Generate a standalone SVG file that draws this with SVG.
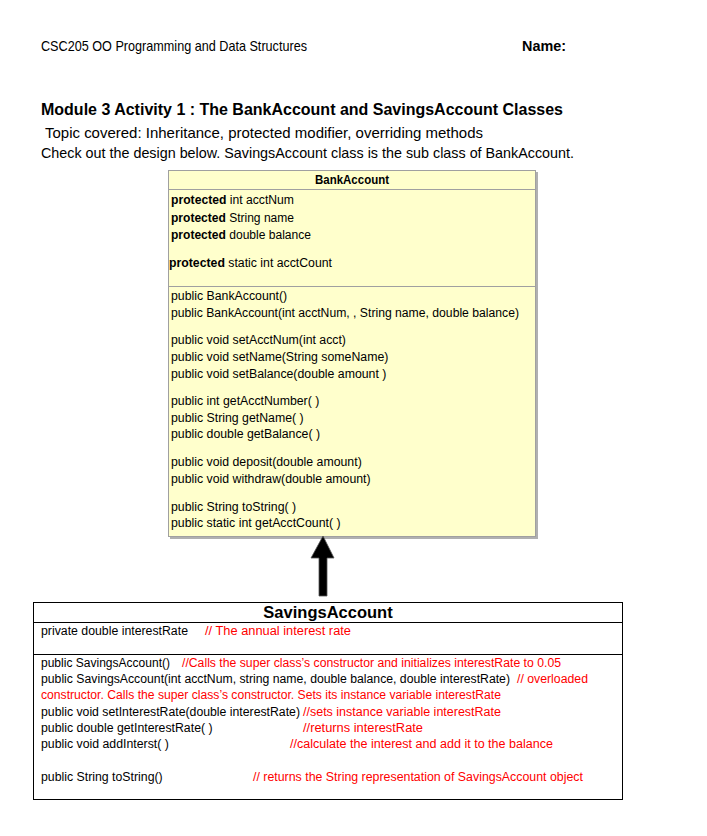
<svg xmlns="http://www.w3.org/2000/svg" width="707" height="836" viewBox="0 0 707 836">
<style>
text{font-family:"Liberation Sans",Arial,sans-serif;fill:#000}
.hd{font-size:14.5px}
.ttl{font-size:16.5px;font-weight:bold}
.t{font-size:12.3px}
.b{font-weight:bold}
.r{fill:#ff0000}
.box{fill:#ffffcc;stroke:#a0a0a0;stroke-width:1}
.ln{stroke:#a0a0a0;stroke-width:1}
.sbox{fill:#fff;stroke:#000;stroke-width:1}
.sln{stroke:#000;stroke-width:1}
</style>
<rect width="707" height="836" fill="#fff"/>
<g id="header">
<text class="hd" x="41" y="51" textLength="266" lengthAdjust="spacingAndGlyphs">CSC205 OO Programming and Data Structures</text>
<text class="hd b" x="522" y="51" textLength="44" lengthAdjust="spacingAndGlyphs">Name:</text>
<text class="ttl" x="41" y="115" textLength="522" lengthAdjust="spacingAndGlyphs">Module 3 Activity 1 : The BankAccount and SavingsAccount Classes</text>
<text class="hd" x="45" y="138" textLength="438" lengthAdjust="spacingAndGlyphs">Topic covered: Inheritance, protected modifier, overriding methods</text>
<text class="hd" x="41" y="158" textLength="533" lengthAdjust="spacingAndGlyphs">Check out the design below. SavingsAccount class is the sub class of BankAccount.</text>
</g>
<g id="BankAccount">
<rect x="170" y="172" width="368" height="367" fill="#b0b0b0"/>
<rect class="box" x="168.5" y="170.5" width="367" height="366"/>
<line class="ln" x1="168.5" y1="189.5" x2="535.5" y2="189.5"/>
<line class="ln" x1="168.5" y1="286.5" x2="535.5" y2="286.5"/>
<text class="t b" x="352" y="184" text-anchor="middle" textLength="74" lengthAdjust="spacingAndGlyphs">BankAccount</text>
<text class="t" x="171" y="204" textLength="123" lengthAdjust="spacingAndGlyphs"><tspan class="b">protected</tspan> int acctNum</text>
<text class="t" x="171" y="222" textLength="123" lengthAdjust="spacingAndGlyphs"><tspan class="b">protected</tspan> String name</text>
<text class="t" x="171" y="239" textLength="140" lengthAdjust="spacingAndGlyphs"><tspan class="b">protected</tspan> double balance</text>
<text class="t" x="169" y="267" textLength="163" lengthAdjust="spacingAndGlyphs"><tspan class="b">protected</tspan> static int acctCount</text>
<text class="t" x="171" y="300">public BankAccount()</text>
<text class="t" x="171" y="317" textLength="348" lengthAdjust="spacingAndGlyphs">public BankAccount(int acctNum, , String name, double balance)</text>
<text class="t" x="171" y="344">public void setAcctNum(int acct)</text>
<text class="t" x="171" y="361">public void setName(String someName)</text>
<text class="t" x="171" y="378">public void setBalance(double amount )</text>
<text class="t" x="171" y="405">public int getAcctNumber( )</text>
<text class="t" x="171" y="422">public String getName( )</text>
<text class="t" x="171" y="438">public double getBalance( )</text>
<text class="t" x="171" y="466">public void deposit(double amount)</text>
<text class="t" x="171" y="483">public void withdraw(double amount)</text>
<text class="t" x="171" y="511">public String toString( )</text>
<text class="t" x="171" y="527">public static int getAcctCount( )</text>
</g>
<g id="connectors">
<polygon points="323,536 334,558 327,558 327,596 319,596 319,558 311,558" fill="#000" stroke="#555" stroke-width="0.8"/>
</g>
<g id="SavingsAccount">
<rect class="sbox" x="33.5" y="602.5" width="589" height="197"/>
<line class="sln" x1="33.5" y1="622.5" x2="622.5" y2="622.5"/>
<line class="sln" x1="33.5" y1="654.5" x2="622.5" y2="654.5"/>
<text class="ttl" x="328" y="618" text-anchor="middle">SavingsAccount</text>
<text class="t" x="41" y="635">private double interestRate</text>
<text class="t r" x="205" y="635" textLength="146" lengthAdjust="spacingAndGlyphs">//  The annual interest rate</text>
<text class="t" x="41" y="667" textLength="129" lengthAdjust="spacingAndGlyphs">public SavingsAccount()</text>
<text class="t r" x="182" y="667" textLength="379" lengthAdjust="spacingAndGlyphs">//Calls the super class’s constructor and initializes interestRate to 0.05</text>
<text class="t" x="41" y="683" textLength="469" lengthAdjust="spacingAndGlyphs">public SavingsAccount(int acctNum, string name, double balance, double interestRate)</text>
<text class="t r" x="517" y="683" textLength="71" lengthAdjust="spacingAndGlyphs">// overloaded</text>
<text class="t r" x="41" y="699" textLength="460" lengthAdjust="spacingAndGlyphs">constructor. Calls the super class’s constructor. Sets its instance variable interestRate</text>
<text class="t" x="41" y="716" textLength="259" lengthAdjust="spacingAndGlyphs">public void setInterestRate(double interestRate)</text>
<text class="t r" x="303" y="716" textLength="198" lengthAdjust="spacingAndGlyphs">//sets instance variable interestRate</text>
<text class="t" x="41" y="732">public double getInterestRate( )</text>
<text class="t r" x="303" y="732" textLength="120" lengthAdjust="spacingAndGlyphs">//returns interestRate</text>
<text class="t" x="41" y="748">public void addInterst( )</text>
<text class="t r" x="290" y="748" textLength="263" lengthAdjust="spacingAndGlyphs">//calculate the interest and add it to the balance</text>
<text class="t" x="41" y="781">public String toString()</text>
<text class="t r" x="253" y="781" textLength="330" lengthAdjust="spacingAndGlyphs">// returns the String representation of SavingsAccount object</text>
</g>
</svg>
